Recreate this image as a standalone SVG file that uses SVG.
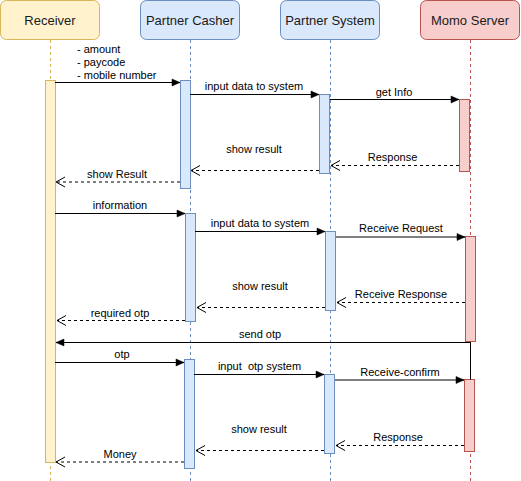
<svg xmlns="http://www.w3.org/2000/svg" width="521" height="481" viewBox="0 0 521 481">
<style>
.hdr{font-family:"Liberation Sans",Arial,sans-serif;font-size:13px;fill:#1a1a1a;text-anchor:middle}
.lbl{font-family:"Liberation Sans",Arial,sans-serif;font-size:11px;fill:#000;text-anchor:middle;white-space:pre}
.lbll{font-family:"Liberation Sans",Arial,sans-serif;font-size:11px;fill:#000}
.y{fill:#fff2cc;stroke:#d6b656}
.b{fill:#dae8fc;stroke:#6c8ebf}
.r{fill:#f8cecc;stroke:#b85450}
.ll{fill:none;stroke-dasharray:3,3}
.msg{fill:none;stroke:#000;stroke-width:1;marker-end:url(#block)}
.ret{fill:none;stroke:#000;stroke-width:1;stroke-dasharray:3,3;marker-end:url(#open)}
</style>
<defs>
<marker id="block" markerUnits="userSpaceOnUse" markerWidth="10" markerHeight="10" refX="8" refY="4" orient="auto" overflow="visible">
<path d="M0,0.5 L8,4 L0,7.5 z" fill="#000" stroke="#000" stroke-width="0.5"/>
</marker>
<marker id="open" markerUnits="userSpaceOnUse" markerWidth="12" markerHeight="12" refX="9" refY="5" orient="auto" overflow="visible">
<path d="M0,0 L9,5 L0,10" fill="none" stroke="#000" stroke-width="1"/>
</marker>
</defs>

<g id="receiver">
<rect class="y" x="0.5" y="0.5" width="99" height="39" rx="6"/>
<text class="hdr" x="50" y="25">Receiver</text>
<line class="ll" x1="50.5" y1="40" x2="50.5" y2="481" stroke="#d6b656"/>
<rect class="y" x="45.5" y="80.5" width="10" height="382"/>
</g>

<g id="partner-casher">
<rect class="b" x="140.5" y="0.5" width="99" height="39" rx="6"/>
<text class="hdr" x="190" y="25">Partner Casher</text>
<line class="ll" x1="190.5" y1="40" x2="190.5" y2="481" stroke="#6c8ebf"/>
<rect class="b" x="180.5" y="80.5" width="10" height="108"/>
<rect class="b" x="185.5" y="213.5" width="10" height="108"/>
<rect class="b" x="184.5" y="359.5" width="10" height="109"/>
</g>

<g id="partner-system">
<rect class="b" x="280.5" y="0.5" width="99" height="39" rx="6"/>
<text class="hdr" x="330" y="25">Partner System</text>
<line class="ll" x1="330.5" y1="40" x2="330.5" y2="481" stroke="#6c8ebf"/>
<rect class="b" x="319.5" y="94.5" width="10" height="79"/>
<rect class="b" x="325.5" y="231.5" width="10" height="79"/>
<rect class="b" x="324.5" y="374.5" width="10" height="79"/>
</g>

<g id="momo-server">
<rect class="r" x="420.5" y="0.5" width="99" height="39" rx="6"/>
<text class="hdr" x="470" y="25">Momo Server</text>
<line class="ll" x1="470.5" y1="40" x2="470.5" y2="481" stroke="#b85450"/>
<rect class="r" x="459.5" y="99.5" width="10" height="72"/>
<rect class="r" x="465.5" y="236.5" width="10" height="105"/>
<rect class="r" x="464.5" y="379.5" width="10" height="72"/>
</g>

<g id="connectors">
<line class="msg" x1="55" y1="82.5" x2="180" y2="82.5"/>
<line class="msg" x1="190" y1="94.5" x2="319" y2="94.5"/>
<line class="msg" x1="330" y1="99.5" x2="459" y2="99.5"/>
<line class="ret" x1="459" y1="165.5" x2="331" y2="165.5"/>
<line class="ret" x1="319" y1="170.5" x2="191" y2="170.5"/>
<line class="ret" x1="180" y1="182" x2="56" y2="182"/>
<line class="msg" x1="55" y1="213.5" x2="185" y2="213.5"/>
<line class="msg" x1="195" y1="231.5" x2="325" y2="231.5"/>
<line class="msg" x1="336" y1="237" x2="465" y2="237"/>
<line class="ret" x1="465" y1="302.5" x2="337" y2="302.5"/>
<line class="ret" x1="325" y1="307.5" x2="197" y2="307.5"/>
<line class="ret" x1="185" y1="320.5" x2="57" y2="320.5"/>
<line class="msg" x1="470.5" y1="342.5" x2="56" y2="342.5"/>
<line x1="470.5" y1="342" x2="470.5" y2="379.5" stroke="#000"/>
<line class="msg" x1="55" y1="362.5" x2="184" y2="362.5"/>
<line class="msg" x1="194" y1="374.5" x2="324" y2="374.5"/>
<line class="msg" x1="335" y1="380" x2="464" y2="380"/>
<line class="ret" x1="464" y1="445.5" x2="336" y2="445.5"/>
<line class="ret" x1="324" y1="450.5" x2="196" y2="450.5"/>
<line class="ret" x1="184" y1="462" x2="56" y2="462"/>
</g>

<g id="labels">
<text class="lbll" x="77" y="52.5">- amount</text>
<text class="lbll" x="77" y="65.5">- paycode</text>
<text class="lbll" x="77" y="78.5">- mobile number</text>
<text class="lbl" x="254" y="90">input data to system</text>
<text class="lbl" x="394" y="96">get Info</text>
<text class="lbl" x="392.5" y="161">Response</text>
<text class="lbl" x="254" y="153">show result</text>
<text class="lbl" x="117" y="178">show Result</text>
<text class="lbl" x="120" y="209">information</text>
<text class="lbl" x="260" y="227">input data to system</text>
<text class="lbl" x="401" y="232">Receive Request</text>
<text class="lbl" x="401" y="297.5">Receive Response</text>
<text class="lbl" x="260" y="290">show result</text>
<text class="lbl" x="120" y="316.5">required otp</text>
<text class="lbl" x="260" y="338">send otp</text>
<text class="lbl" x="122" y="358">otp</text>
<text class="lbl" x="259.5" y="370" xml:space="preserve">input  otp system</text>
<text class="lbl" x="400" y="375.5">Receive-confirm</text>
<text class="lbl" x="398" y="441">Response</text>
<text class="lbl" x="259" y="433">show result</text>
<text class="lbl" x="120" y="457.5">Money</text>
</g>
</svg>
